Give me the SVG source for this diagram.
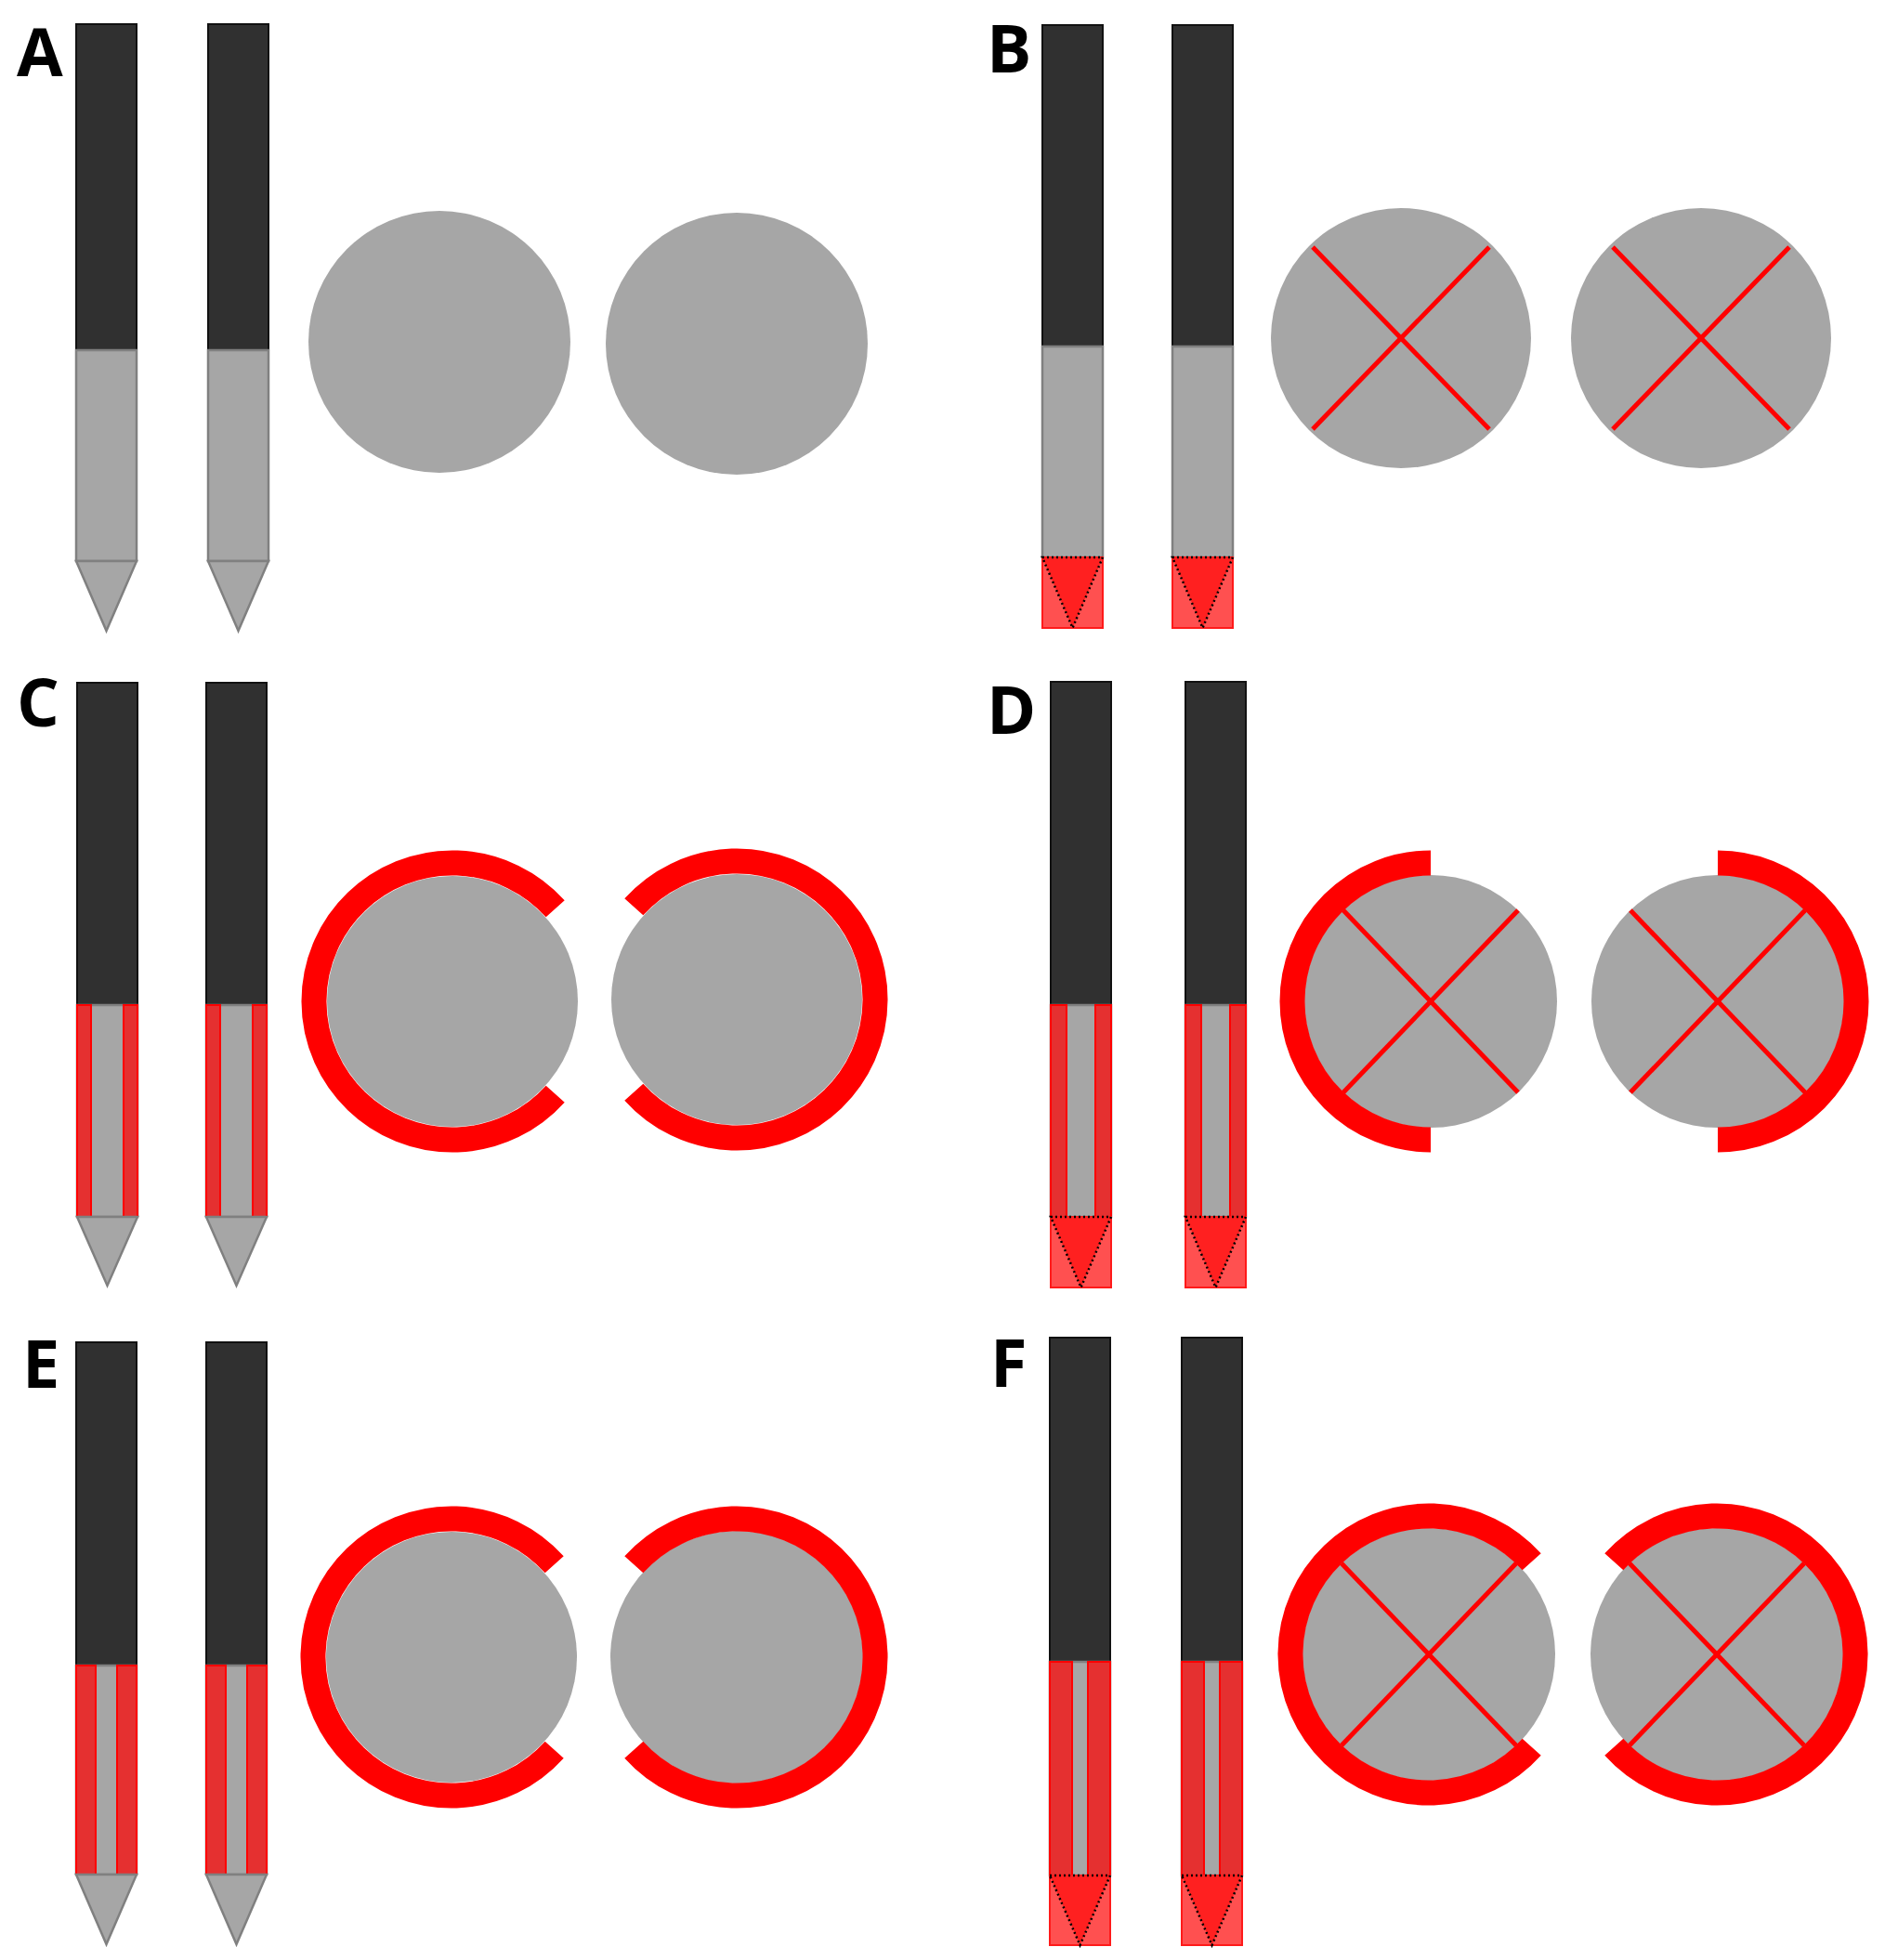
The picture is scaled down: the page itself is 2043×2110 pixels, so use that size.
<svg xmlns="http://www.w3.org/2000/svg" width="2043" height="2110" viewBox="0 0 2043 2110">
<style>
.dk{fill:#303030;stroke:#111;stroke-width:2}
.gr{fill:#a6a6a6;stroke:#808080;stroke-width:2.5}
.st{fill:#e53030;stroke:#ff0000;stroke-width:2}
.rb{fill:#ff5050;stroke:#ff1a1a;stroke-width:2}
.rt{fill:#ff2020;stroke:#000;stroke-width:2.5;stroke-dasharray:2 3}
.c{fill:#a6a6a6}
.ring{fill:none;stroke:#ff0000;stroke-width:27}
.x{stroke:#ff0000;stroke-width:5}
.lb{font-family:"Open Sans","Liberation Sans",sans-serif;font-weight:700;font-size:72px;fill:#000}
</style>
<g id="panelA">
<text class="lb" x="18" y="82">A</text>
<rect class="dk" x="82" y="26" width="65" height="351"/><rect class="gr" x="82" y="377" width="65" height="227"/><polygon class="gr" points="82,604 147,604 114.5,679"/>
<rect class="dk" x="224" y="26" width="65" height="351"/><rect class="gr" x="224" y="377" width="65" height="227"/><polygon class="gr" points="224,604 289,604 256.5,679"/>
<circle class="c" cx="473" cy="368" r="141"/><circle class="c" cx="793" cy="370" r="141"/>
</g>
<g id="panelB">
<text class="lb" x="1062" y="78">B</text>
<rect class="dk" x="1122" y="27" width="65" height="346"/><rect class="gr" x="1122" y="373" width="65" height="227"/><rect class="rb" x="1122" y="600" width="65" height="76"/><polygon class="rt" points="1122,600 1187,600 1154.5,676"/>
<rect class="dk" x="1262" y="27" width="65" height="346"/><rect class="gr" x="1262" y="373" width="65" height="227"/><rect class="rb" x="1262" y="600" width="65" height="76"/><polygon class="rt" points="1262,600 1327,600 1294.5,676"/>
<circle class="c" cx="1508" cy="364" r="140"/><line class="x" x1="1413" y1="266" x2="1603" y2="462"/><line class="x" x1="1603" y1="266" x2="1413" y2="462"/>
<circle class="c" cx="1831" cy="364" r="140"/><line class="x" x1="1736" y1="266" x2="1926" y2="462"/><line class="x" x1="1926" y1="266" x2="1736" y2="462"/>
</g>
<g id="panelC">
<text class="lb" x="18" y="782">C</text>
<rect class="dk" x="83" y="735" width="65" height="347"/><rect class="gr" x="83" y="1082" width="65" height="228"/><rect class="st" x="83" y="1082" width="15" height="228"/><rect class="st" x="133" y="1082" width="15" height="228"/><polygon class="gr" points="83,1310 148,1310 115.5,1384"/>
<rect class="dk" x="222" y="735" width="65" height="347"/><rect class="gr" x="222" y="1082" width="65" height="228"/><rect class="st" x="222" y="1082" width="15" height="228"/><rect class="st" x="272" y="1082" width="15" height="228"/><polygon class="gr" points="222,1310 287,1310 254.5,1384"/>
<circle class="c" cx="487" cy="1078" r="135"/><path class="ring" d="M597.7,978.3 A149,149 0 1 0 597.7,1177.7"/>
<circle class="c" cx="793" cy="1076" r="135"/><path class="ring" d="M682.3,976.3 A149,149 0 1 1 682.3,1175.7"/>
</g>
<g id="panelD">
<text class="lb" x="1062" y="790">D</text>
<rect class="dk" x="1131" y="734" width="65" height="348"/><rect class="gr" x="1131" y="1082" width="65" height="228"/><rect class="st" x="1131" y="1082" width="17" height="228"/><rect class="st" x="1179" y="1082" width="17" height="228"/><rect class="rb" x="1131" y="1310" width="65" height="76"/><polygon class="rt" points="1131,1310 1196,1310 1163.5,1386"/>
<rect class="dk" x="1276" y="734" width="65" height="348"/><rect class="gr" x="1276" y="1082" width="65" height="228"/><rect class="st" x="1276" y="1082" width="17" height="228"/><rect class="st" x="1324" y="1082" width="17" height="228"/><rect class="rb" x="1276" y="1310" width="65" height="76"/><polygon class="rt" points="1276,1310 1341,1310 1308.5,1386"/>
<circle class="c" cx="1540" cy="1078" r="136"/><path class="ring" d="M1540,929 A149,149 0 0 0 1540,1227"/><line class="x" x1="1446" y1="980" x2="1634" y2="1176"/><line class="x" x1="1634" y1="980" x2="1446" y2="1176"/>
<circle class="c" cx="1849" cy="1078" r="136"/><path class="ring" d="M1849,929 A149,149 0 0 1 1849,1227"/><line class="x" x1="1755" y1="980" x2="1943" y2="1176"/><line class="x" x1="1943" y1="980" x2="1755" y2="1176"/>
</g>
<g id="panelE">
<text class="lb" x="24" y="1494">E</text>
<rect class="dk" x="82" y="1445" width="65" height="348"/><rect class="gr" x="82" y="1793" width="65" height="225"/><rect class="st" x="82" y="1793" width="21" height="225"/><rect class="st" x="126" y="1793" width="21" height="225"/><polygon class="gr" points="82,2018 147,2018 114.5,2093"/>
<rect class="dk" x="222" y="1445" width="65" height="348"/><rect class="gr" x="222" y="1793" width="65" height="225"/><rect class="st" x="222" y="1793" width="21" height="225"/><rect class="st" x="266" y="1793" width="21" height="225"/><polygon class="gr" points="222,2018 287,2018 254.5,2093"/>
<circle class="c" cx="486" cy="1784" r="135"/><path class="ring" d="M596.7,1684.3 A149,149 0 1 0 596.7,1883.7"/>
<circle class="c" cx="793" cy="1784" r="136"/><path class="ring" d="M682.3,1684.3 A149,149 0 1 1 682.3,1883.7"/>
</g>
<g id="panelF">
<text class="lb" x="1066" y="1493">F</text>
<rect class="dk" x="1130" y="1440" width="65" height="349"/><rect class="gr" x="1130" y="1789" width="65" height="230"/><rect class="st" x="1130" y="1789" width="24" height="230"/><rect class="st" x="1171" y="1789" width="24" height="230"/><rect class="rb" x="1130" y="2019" width="65" height="75"/><polygon class="rt" points="1130,2019 1195,2019 1162.5,2094"/>
<rect class="dk" x="1272" y="1440" width="65" height="349"/><rect class="gr" x="1272" y="1789" width="65" height="230"/><rect class="st" x="1272" y="1789" width="24" height="230"/><rect class="st" x="1313" y="1789" width="24" height="230"/><rect class="rb" x="1272" y="2019" width="65" height="75"/><polygon class="rt" points="1272,2019 1337,2019 1304.5,2094"/>
<circle class="c" cx="1538" cy="1781" r="136"/><path class="ring" d="M1648.7,1681.3 A149,149 0 1 0 1648.7,1880.7"/><line class="x" x1="1444" y1="1683" x2="1632" y2="1879"/><line class="x" x1="1632" y1="1683" x2="1444" y2="1879"/>
<circle class="c" cx="1848" cy="1781" r="136"/><path class="ring" d="M1737.3,1681.3 A149,149 0 1 1 1737.3,1880.7"/><line class="x" x1="1754" y1="1683" x2="1942" y2="1879"/><line class="x" x1="1942" y1="1683" x2="1754" y2="1879"/>
</g>
</svg>
